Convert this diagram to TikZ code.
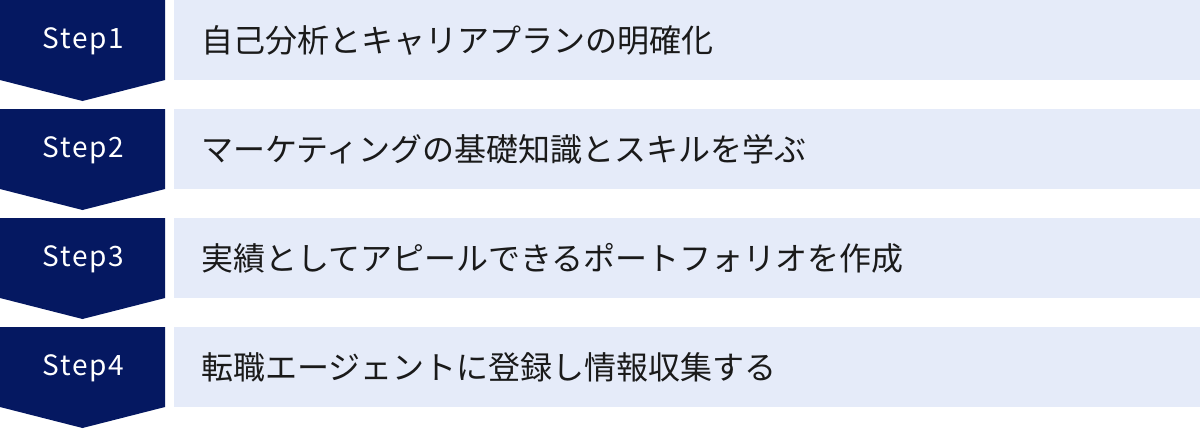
\documentclass[tikz,border=0pt]{standalone}
\usepackage{fontspec}
\setmainfont{Noto Sans CJK JP}
\newfontfamily\labfont[LetterSpace=6]{Noto Sans CJK JP}
\definecolor{navy}{RGB}{5,24,97}
\definecolor{pale}{RGB}{229,235,249}
\definecolor{ink}{RGB}{26,26,26}
\tikzset{
  chev/.style={fill=navy, draw=none},
  band/.style={fill=pale, draw=none},
  steplabel/.style={text=white, font=\labfont\fontsize{28}{30}\selectfont, anchor=center, inner sep=0pt},
  desc/.style={text=ink, font=\fontsize{32}{34}\selectfont, anchor=west, inner sep=0pt},
}
\begin{document}
\begin{tikzpicture}[x=1pt,y=-1pt]
\useasboundingbox (0,0) rectangle (1200,429);
\fill[white] (0,0) rectangle (1200,429);
\foreach \k/\lab/\txt in {
  0/Step1/自己分析とキャリアプランの明確化,
  1/Step2/マーケティングの基礎知識とスキルを学ぶ,
  2/Step3/実績としてアピールできるポートフォリオを作成,
  3/Step4/転職エージェントに登録し情報収集する}{
  \pgfmathsetmacro{\t}{109*\k}
  \path[chev] (0,\t) -- (165,\t) -- (165,\t+80) -- (82.5,\t+101) -- (0,\t+80) -- cycle;
  \path[band] (174,\t) rectangle (1200,\t+80);
  \node[steplabel] (s\k) at (83.5,\t+41) {\lab};
  \node[desc] (d\k) at (201,\t+40) {\txt};
}
\end{tikzpicture}
\end{document}
